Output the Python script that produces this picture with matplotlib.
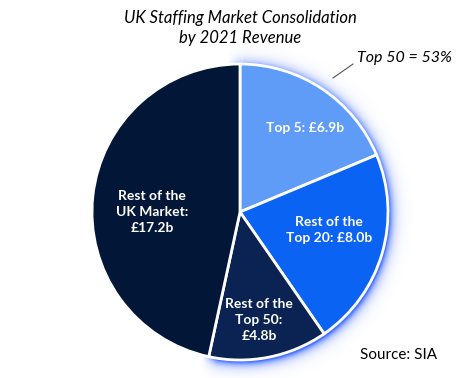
import matplotlib
matplotlib.use("Agg")
import matplotlib.pyplot as plt
import numpy as np

# datos del grafico
segmentos = ["Top 5", "Rest of the Top 20", "Rest of the Top 50", "Rest of the UK Market"]
ingresos = [6.9, 8.0, 4.8, 17.2]
etiquetas = ["Top 5: £6.9b", "Rest of the\nTop 20: £8.0b", "Rest of the\nTop 50:\n£4.8b",
             "Rest of the\nUK Market:\n£17.2b"]
colores = ["#5f9cf7", "#0b63f3", "#0a2352", "#021737"]

W, H = 474, 378
fig = plt.figure(figsize=(W / 100, H / 100), dpi=100)
ax = fig.add_axes([0, 0, 1, 1])

cx, cy, r = 240, H - 212, 148

# brillo azul alrededor del Top 50 como imagen RGBA
total = sum(ingresos)
ang_top50 = 360 * sum(ingresos[:3]) / total
xs, ys = np.meshgrid(np.arange(W) + 0.5, np.arange(H) + 0.5)
gx, gy = xs - (cx + 1.5), ys - (cy - 2)
dist = np.hypot(gx, gy) - r
ang = (90 - np.degrees(np.arctan2(gy, gx))) % 360  # horario desde arriba
peso_ang = np.clip((ang_top50 + 3 - ang) / 6, 0, 1) * np.clip((ang + 3) / 4, 0, 1)
peso_ang = np.where(ang > 350, np.clip((ang - 355) / 5, 0, 1), peso_ang)
alfa = np.where(dist > -2, np.exp(-np.clip(dist, 0, None) / 4.5), 0) * peso_ang
glow = np.zeros((H, W, 4))
glow[..., 0], glow[..., 1], glow[..., 2] = 0.24, 0.42, 1.0
glow[..., 3] = np.clip(alfa * 0.95, 0, 1)
ax.imshow(glow, extent=(0, W, 0, H), origin="lower", interpolation="bilinear", zorder=0)

ax.pie(ingresos, colors=colores, startangle=90, counterclock=False,
       center=(cx, cy), radius=r, frame=True,
       wedgeprops=dict(edgecolor="white", linewidth=2, zorder=1))
ax.set_xlim(0, W)
ax.set_ylim(0, H)
ax.set_aspect("equal")
ax.axis("off")

pos_etiquetas = [(305, 128), (329, 230), (259, 320), (152, 212)]
fuente = "Lato"
for txt, (x, y) in zip(etiquetas, pos_etiquetas):
    ax.text(x, H - y, txt, color="white", fontsize=10, fontweight="bold",
            family=fuente, ha="center", va="center", linespacing=1.35, zorder=3)

ax.text(240, H - 28, "UK Staffing Market Consolidation\nby 2021 Revenue", fontsize=12,
        style="italic", family=fuente, ha="center", va="center", linespacing=1.3)

ax.plot([333, 353], [H - 78, H - 64], color="#555555", linewidth=0.8)
ax.text(357, H - 58, "Top 50 = 53%", fontsize=11.5, style="italic", family=fuente,
        ha="left", va="center")
ax.text(399, H - 355, "Source: SIA", fontsize=11, family=fuente, ha="center", va="center")

fig.savefig("out.png", dpi=100)
